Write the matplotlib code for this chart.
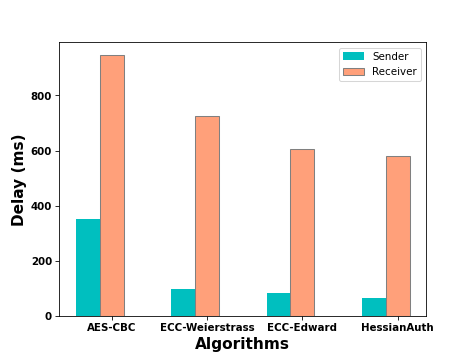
import matplotlib
matplotlib.use('Agg')
import matplotlib.pyplot as plt
import numpy as np

algorithms = ['AES-CBC', 'ECC-Weierstrass', 'ECC-Edward', 'HessianAuth']
sender = [352, 98, 83, 65]
receiver = [945, 724, 604, 582]

x = np.arange(len(algorithms))
width = 0.25

fig, ax = plt.subplots(figsize=(6.4, 4.8), dpi=74)
ax.bar(x, sender, width, color='#00BFBF', label='Sender')
ax.bar(x + width, receiver, width, color='#FFA07A', edgecolor='grey', label='Receiver')

ax.set_xticks(x + width)
ax.set_xticklabels(algorithms, fontweight='bold')
plt.setp(ax.get_yticklabels(), fontweight='bold')
ax.set_xlabel('Algorithms', fontsize=15, fontweight='bold')
ax.set_ylabel('Delay (ms)', fontsize=15, fontweight='bold')
ax.legend(loc='upper right')

plt.savefig('out.png', dpi=74)
